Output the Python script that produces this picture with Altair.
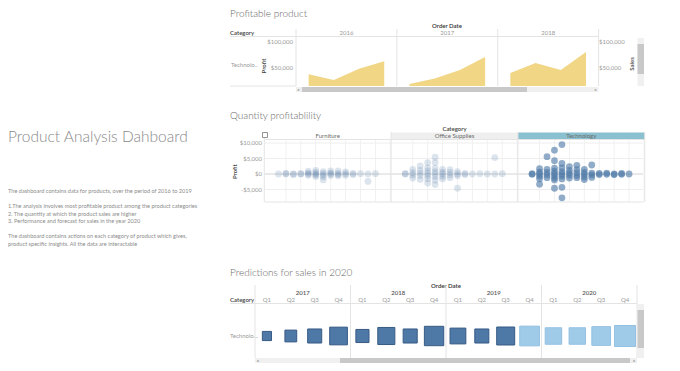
import altair as alt
import pandas as pd

# ---------------- chart data ----------------
# Profitable product (Technology, by quarter)
top_years = [2016, 2017, 2018]
quarters = ["Q1", "Q2", "Q3", "Q4"]
sales_2016 = [37200, 26100, 48100, 62500]
sales_2017 = [18300, 29000, 45500, 70800]
sales_2018 = [39700, 59100, 45500, 80500]
top_ticks = [100000, 50000]

# Quantity profitability: profit of orders for quantity 1..14
categories = ["Furniture", "Office Supplies", "Technology"]
furniture_profit = [
    [0], [0, 200], [0, -150], [100, 0], [900, 300, 0, -400],
    [1200, 500, 0, -300, -800], [800, 200, -300, -900, -1900], [1000, 300, 0, -500],
    [1000, 200, -200, -600], [700, 100, -400], [200, -200], [100], [0, -2400], [100],
]
office_profit = [
    [0, 100], [1500, 400, -300, -1300], [2600, 1200, 300, -500, -1800],
    [3700, 2000, 1000, 200, -600, -1500, -2900],
    [5400, 3700, 1800, 800, 0, -900, -2000, -3400],
    [1500, 600, 0, -800, -1600], [1400, 500, -300, -1200], [800, 0, -600, -4600],
    [200, -200], [0], [100], [0], [5300, 0], [100],
]
technology_profit = [
    [100, -100], [1700, 600, 0, -700, -1500, -3300], [5600, 1500, 500, -300, -1200],
    [7700, 4300, 1900, 900, 200, -500, -1300, -1900, -4600],
    [9500, 3400, 2000, 800, 0, -700, -1600, -4300, -7700],
    [2400, 1200, 300, -400, -1300], [2800, 1400, 400, -500, -1200],
    [1500, 500, -200, -1000, -1800], [2900, 300, -300, -1100],
    [200, -200], [300, -100], [0, -200], [200, -100], [0],
]
mid_ticks = [10000, 5000, 0, -5000]

# Predictions for sales in 2020 (Technology)
pred_years = [2017, 2018, 2019, 2020]
pred_sales = [26000, 43000, 61000, 97000,
              53000, 90000, 61000, 116000,
              77000, 61000, 100000, 120000,
              84000, 84000, 108000, 136000]
pred_kind = ["Actual"] * 11 + ["Forecast"] * 5

intro_lines = [
    "The dashboard contains data for products, over the period of 2016 to 2019",
    "1.The analysis involves most profitable product among the product categories",
    "2. The quantity at which the product sales are higher",
    "3. Performance and forecast for sales in the year 2020",
    "The dashboard contains actions on each category of product which gives,",
    "product specific insights.  All the data are interactable",
]

# ---------------- layout helpers ----------------
def X(r):
    return r - 8


def Y(r):
    return r - 7


FONT = "Lato"
one = pd.DataFrame({"k": [0]})
GRID = "#e4e4e4"


def label(text, x, y, size=6, color="#999999", align="left", weight=400, angle=0):
    return alt.Chart(pd.DataFrame({"t": [text]})).mark_text(
        align=align, baseline="middle", fontSize=size, color=color,
        fontWeight=weight, angle=angle, font=FONT
    ).encode(text="t:N", x=alt.value(x), y=alt.value(y))


def seg(x1, y1, x2, y2, color=GRID):
    return alt.Chart(one).mark_rule(color=color, strokeWidth=1).encode(
        x=alt.value(X(x1)), x2=alt.value(X(x2)), y=alt.value(Y(y1)), y2=alt.value(Y(y2)))


def box(x1, y1, x2, y2, color, stroke=None):
    kw = {"fill": color}
    if stroke:
        kw.update(stroke=stroke, strokeWidth=0.8)
    return alt.Chart(one).mark_rect(**kw).encode(
        x=alt.value(X(x1)), x2=alt.value(X(x2)), y=alt.value(Y(y1)), y2=alt.value(Y(y2)))


layers = []

# ---------------- left text panel ----------------
layers.append(label("Product Analysis Dahboard", 0, Y(135.7), size=15.5, color="#8a8a8a", weight=300))
for txt_line, yy in zip(intro_lines, [190, 205, 212.5, 220, 235, 242.5]):
    layers.append(label(txt_line, 0, Y(yy), size=5.6, color="#8c8c8c"))

# ---------------- top: Profitable product ----------------
rows = []
for yi, (yr, vals) in enumerate(zip(top_years, [sales_2016, sales_2017, sales_2018])):
    for qi, v in enumerate(vals):
        rows.append({"year": str(yr), "t": yi * 4 + qi + 0.5, "sales": v})
top_df = pd.DataFrame(rows)
top_x = alt.Scale(domain=[0, 12], range=[X(296), X(598.6)])
top_y = alt.Scale(domain=[14400, 100000], range=[Y(85), Y(41)], clamp=True)

layers.append(label("Profitable product", X(230), Y(13), size=10, color="#666666", weight=300))
layers.append(label("Order Date", X(447), Y(25), size=6, color="#333333", align="center", weight=600))
layers.append(label("Category", X(230), Y(32.3), size=6, color="#444444", weight=600))
layers.append(seg(230, 35.5, 598.6, 35.5))
layers.append(seg(230, 85, 296, 85))
sep_df = pd.DataFrame({"t": [i * 4 for i in range(len(top_years) + 1)]})
layers.append(alt.Chart(sep_df).mark_rule(color=GRID).encode(
    x=alt.X("t:Q", scale=top_x, axis=None), y=alt.value(Y(28)), y2=alt.value(Y(85))))
layers.append(alt.Chart(top_df).mark_area(color="#f1d686", orient="vertical").encode(
    x=alt.X("t:Q", scale=top_x, axis=None),
    y=alt.Y("sales:Q", scale=top_y, axis=None),
    y2=alt.datum(0),
    detail="year:N"))
yl_df = pd.DataFrame({"label": [str(y) for y in top_years],
                      "t": [i * 4 + 2 for i in range(len(top_years))]})
layers.append(alt.Chart(yl_df).mark_text(fontSize=6, color="#9a9a9a", font=FONT, baseline="middle").encode(
    x=alt.X("t:Q", scale=top_x, axis=None), y=alt.value(Y(32.3)), text="label:N"))
tt_df = pd.DataFrame({"v": top_ticks, "label": [f"${v:,}" for v in top_ticks]})
layers.append(alt.Chart(tt_df).mark_text(fontSize=6, color="#9a9a9a", font=FONT, align="right", baseline="middle").encode(
    y=alt.Y("v:Q", scale=top_y, axis=None), x=alt.value(X(293)), text="label:N"))
layers.append(alt.Chart(tt_df).mark_text(fontSize=6, color="#9a9a9a", font=FONT, align="left", baseline="middle").encode(
    y=alt.Y("v:Q", scale=top_y, axis=None), x=alt.value(X(599)), text="label:N"))
layers.append(label("Technolo..", X(231), Y(64.3), color="#9a9a9a"))
layers.append(label("Profit", X(264), Y(65), color="#444444", align="center", weight=600, angle=270))
layers.append(label("Sales", X(632), Y(63), color="#444444", align="center", weight=600, angle=270))
# scrollbars
layers.append(box(296, 86, 598.6, 91, "#f0f0f0"))
layers.append(box(302, 86, 527, 91, "#c8c8c8"))
layers.append(label("<", X(298.5), Y(88.5), size=5, color="#666666", align="center"))
layers.append(label(">", X(595.5), Y(88.5), size=5, color="#666666", align="center"))
layers.append(box(637.5, 37, 644, 85, "#f0f0f0"))
layers.append(box(637.5, 43, 644, 73, "#c8c8c8"))

# ---------------- middle: Quantity profitability ----------------
mid_rows = []
for p, (cat, plists) in enumerate(zip(categories, [furniture_profit, office_profit, technology_profit])):
    for q, plist in enumerate(plists, start=1):
        for v in plist:
            mid_rows.append({"category": cat, "qty": q, "profit": v, "pos": p * 17 + q})
mid_df = pd.DataFrame(mid_rows)
mid_x = alt.Scale(domain=[0, 51], range=[X(271), X(271 + 7.46 * 51)])
mid_y = alt.Scale(domain=[-5000, 10000], range=[Y(188.5), Y(142)])

layers.append(label("Quantity profitablility", X(230), Y(114.5), size=10, color="#666666", weight=300))
layers.append(label("Category", X(454.5), Y(128), size=6, color="#444444", align="center", weight=600))
band_df = pd.DataFrame({"category": categories,
                        "a": [p * 17 - 0.9 for p in range(3)],
                        "b": [(p + 1) * 17 - 0.9 for p in range(3)],
                        "c": [p * 17 + 7.6 for p in range(3)]})
layers.append(alt.Chart(band_df).mark_rect().encode(
    x=alt.X("a:Q", scale=mid_x, axis=None), x2="b:Q",
    y=alt.value(Y(131.5)), y2=alt.value(Y(138.5)),
    color=alt.Color("category:N", scale=alt.Scale(domain=categories,
                    range=["#ffffff", "#efefef", "#8ac0cf"]), legend=None)))
layers.append(alt.Chart(band_df).mark_text(fontSize=6, color="#6a6a6a", font=FONT, baseline="middle").encode(
    x=alt.X("c:Q", scale=mid_x, axis=None), y=alt.value(Y(135.2)), text="category:N"))
vgrid_df = pd.DataFrame({"g": [p * 17 + q for p in range(3) for q in range(2, 17, 2)]})
layers.append(alt.Chart(vgrid_df).mark_rule(color="#f1f1f1").encode(
    x=alt.X("g:Q", scale=mid_x, axis=None), y=alt.value(Y(139)), y2=alt.value(Y(200.5))))
hgrid_df = pd.DataFrame({"v": mid_ticks})
layers.append(alt.Chart(hgrid_df).mark_rule(color="#eeeeee").encode(
    y=alt.Y("v:Q", scale=mid_y, axis=None), x=alt.value(X(265)), x2=alt.value(X(643))))
layers.append(alt.Chart(pd.DataFrame({"v": [0]})).mark_rule(color="#dcdcdc").encode(
    y=alt.Y("v:Q", scale=mid_y, axis=None), x=alt.value(X(265)), x2=alt.value(X(643))))
edge_df = pd.DataFrame({"e": [p * 17 - 0.9 for p in range(4)]})
layers.append(alt.Chart(edge_df).mark_rule(color=GRID).encode(
    x=alt.X("e:Q", scale=mid_x, axis=None), y=alt.value(Y(131)), y2=alt.value(Y(201))))
layers.append(seg(265, 201, 643.5, 201))
layers.append(seg(265, 138.5, 643.5, 138.5))
layers.append(box(262.5, 131.5, 267.5, 136.5, "#ffffff", stroke="#777777"))
mt_df = pd.DataFrame({"v": mid_ticks,
                      "label": [("-$" if v < 0 else "$") + f"{abs(v):,}" for v in mid_ticks]})
layers.append(alt.Chart(mt_df).mark_text(fontSize=6, color="#9a9a9a", font=FONT, align="right", baseline="middle").encode(
    y=alt.Y("v:Q", scale=mid_y, axis=None), x=alt.value(X(262)), text="label:N"))
layers.append(label("Profit", X(235), Y(170.7), color="#444444", align="center", weight=600, angle=270))
faded = mid_df[mid_df["category"] != "Technology"]
tech = mid_df[mid_df["category"] == "Technology"]
layers.append(alt.Chart(faded).mark_circle(size=46, color="#4e79a7", opacity=0.2).encode(
    x=alt.X("pos:Q", scale=mid_x, axis=None), y=alt.Y("profit:Q", scale=mid_y, axis=None)))
layers.append(alt.Chart(tech).mark_circle(size=46, color="#4e79a7", opacity=0.62).encode(
    x=alt.X("pos:Q", scale=mid_x, axis=None), y=alt.Y("profit:Q", scale=mid_y, axis=None)))

# ---------------- bottom: Predictions for sales in 2020 ----------------
prow = []
i = 0
for yi, yr in enumerate(pred_years):
    for qi, qn in enumerate(quarters):
        prow.append({"year": yr, "quarter": qn, "xi": yi * 4 + qi + 0.5,
                     "sales": pred_sales[i], "kind": pred_kind[i], "cat": "Technology"})
        i += 1
pred_df = pd.DataFrame(prow)
bot_x = alt.Scale(domain=[0, 16], range=[X(255), X(637)])

layers.append(label("Predictions for sales in 2020", X(230), Y(271.7), size=10, color="#666666", weight=300))
layers.append(label("Order Date", X(446), Y(285), size=6, color="#333333", align="center", weight=600))
layers.append(label("Category", X(230), Y(299.3), size=6, color="#444444", weight=600))
layers.append(label("Technolo...", X(230), Y(335), size=6, color="#9a9a9a"))
layers.append(seg(230, 302.5, 637, 302.5))
bsep_df = pd.DataFrame({"t": [i * 4 for i in range(len(pred_years) + 1)]})
layers.append(alt.Chart(bsep_df).mark_rule(color=GRID).encode(
    x=alt.X("t:Q", scale=bot_x, axis=None), y=alt.value(Y(284)), y2=alt.value(Y(357))))
byl_df = pd.DataFrame({"label": [str(y) for y in pred_years],
                       "t": [i * 4 + 2 for i in range(len(pred_years))]})
layers.append(alt.Chart(byl_df).mark_text(fontSize=6, color="#555555", font=FONT, baseline="middle", fontWeight=600).encode(
    x=alt.X("t:Q", scale=bot_x, axis=None), y=alt.value(Y(292.3)), text="label:N"))
layers.append(alt.Chart(pred_df).mark_text(fontSize=6, color="#9a9a9a", font=FONT, baseline="middle").encode(
    x=alt.X("xi:Q", scale=bot_x, axis=None), y=alt.value(Y(299.3)), text="quarter:N"))
layers.append(alt.Chart(pred_df).mark_square(filled=True, opacity=1, strokeWidth=1).encode(
    x=alt.X("xi:Q", scale=bot_x, axis=None),
    y=alt.Y("cat:N", scale=alt.Scale(domain=["Technology"], range=[Y(311), Y(359)]), axis=None),
    size=alt.Size("sales:Q", scale=alt.Scale(domain=[0, 136000], range=[0, 440]), legend=None),
    color=alt.Color("kind:N", scale=alt.Scale(domain=["Actual", "Forecast"],
                    range=["#4e79a7", "#a0cbe8"]), legend=None),
    stroke=alt.Stroke("kind:N", scale=alt.Scale(domain=["Actual", "Forecast"],
                      range=["#375a84", "#93c0e2"]), legend=None)))
# scrollbars
layers.append(box(255, 357, 637, 362, "#f0f0f0"))
layers.append(box(340, 357, 630, 362, "#c8c8c8"))
layers.append(label("<", X(258), Y(359.5), size=5, color="#666666", align="center"))
layers.append(label(">", X(634), Y(359.5), size=5, color="#666666", align="center"))
layers.append(box(637.5, 303, 644, 357, "#f0f0f0"))
layers.append(box(637.5, 309, 644, 347, "#c8c8c8"))

chart = alt.layer(*layers).resolve_scale(
    x="independent", y="independent", color="independent",
    size="independent", stroke="independent"
).properties(
    width=664, height=355, autosize=alt.AutoSizeParams(type="none"), padding=0
).configure_view(stroke=None)

chart.save("out.html", embed_options={"renderer": "svg", "actions": False})
